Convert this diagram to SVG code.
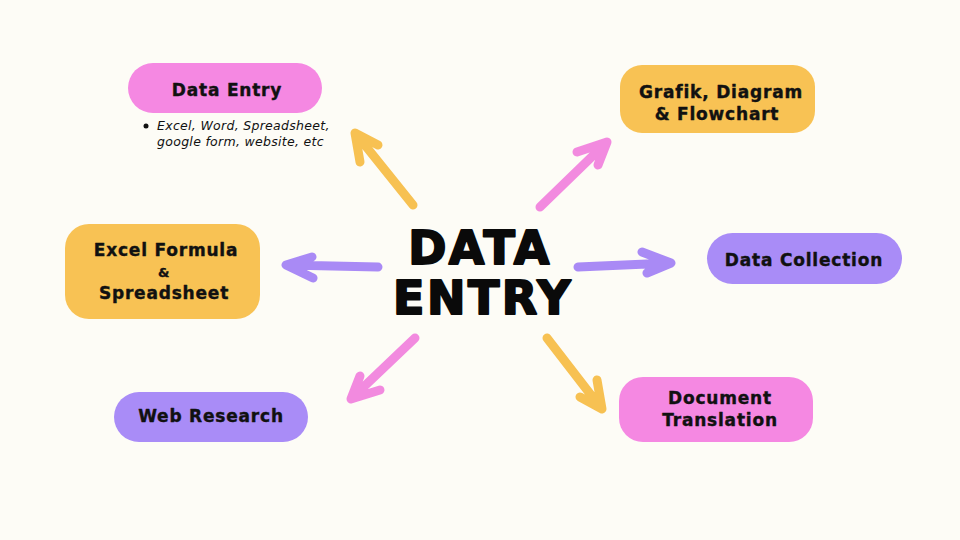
<svg xmlns="http://www.w3.org/2000/svg" width="960" height="540" viewBox="0 0 960 540">
<style>
.bg{fill:#FDFCF6}
.pink{fill:#F588E2}
.yellow{fill:#F8C254}
.purple{fill:#A98CF7}
.lbl{font-family:"DejaVu Sans","Liberation Sans",sans-serif;font-weight:bold;font-size:17px;fill:#111;text-anchor:middle;letter-spacing:0.8px;stroke:#111;stroke-width:0.4px;stroke-linejoin:round}
.title{font-family:"DejaVu Sans","Liberation Sans",sans-serif;font-weight:bold;font-size:46px;fill:#0a0a0a;text-anchor:middle;letter-spacing:2.5px;stroke:#0a0a0a;stroke-width:2px;stroke-linejoin:round}
.note{font-family:"DejaVu Sans","Liberation Sans",sans-serif;font-style:italic;font-size:12.5px;fill:#111;letter-spacing:0.3px}
.arr{fill:none;stroke-width:9;stroke-linecap:round;stroke-linejoin:round}
.ap{stroke:#F28ADF}
.ay{stroke:#F7C152}
.av{stroke:#A98AF5}
</style>
<rect class="bg" x="0" y="0" width="960" height="540"/>
<g id="connectors">
<path class="arr ay" d="M413,205 L356,134 M378,145 L355,133 L360,162"/>
<path class="arr av" d="M378,267 L287,265 M312,257 L286,265 L313,278"/>
<path class="arr ap" d="M415,338 L352,398 M360,376 L351,399 L380,390"/>
<path class="arr ap" d="M540,207 L606,143 M577,152 L607,142 L598,165"/>
<path class="arr av" d="M578,267 L670,263 M642,252 L671,263 L647,273"/>
<path class="arr ay" d="M547,338 L601,408 M597,380 L602,409 L580,397"/>
</g>
<g id="center">
<text class="title" x="480" y="264">DATA</text>
<text class="title" x="483" y="314">ENTRY</text>
</g>
<g id="node-data-entry">
<rect class="pink" x="128" y="63" width="194" height="50" rx="25"/>
<text class="lbl" x="227" y="96">Data Entry</text>
<circle cx="146" cy="126" r="2.5" fill="#111"/>
<text class="note" x="157" y="130">Excel, Word, Spreadsheet,</text>
<text class="note" x="157" y="146">google form, website, etc</text>
</g>
<g id="node-grafik">
<rect class="yellow" x="620" y="65" width="195" height="68" rx="22"/>
<text class="lbl" x="721" y="98">Grafik, Diagram</text>
<text class="lbl" x="717" y="120">&amp; Flowchart</text>
</g>
<g id="node-excel">
<rect class="yellow" x="65" y="224" width="195" height="95" rx="24"/>
<text class="lbl" x="166" y="256">Excel Formula</text>
<text class="lbl" x="164" y="277" style="font-size:13px">&amp;</text>
<text class="lbl" x="164" y="299">Spreadsheet</text>
</g>
<g id="node-data-collection">
<rect class="purple" x="707" y="233" width="195" height="51" rx="25.5"/>
<text class="lbl" x="804" y="266">Data Collection</text>
</g>
<g id="node-document">
<rect class="pink" x="619" y="377" width="194" height="65" rx="24"/>
<text class="lbl" x="720" y="404">Document</text>
<text class="lbl" x="720" y="426">Translation</text>
</g>
<g id="node-web">
<rect class="purple" x="114" y="392" width="194" height="50" rx="25"/>
<text class="lbl" x="211" y="422">Web Research</text>
</g>
</svg>
